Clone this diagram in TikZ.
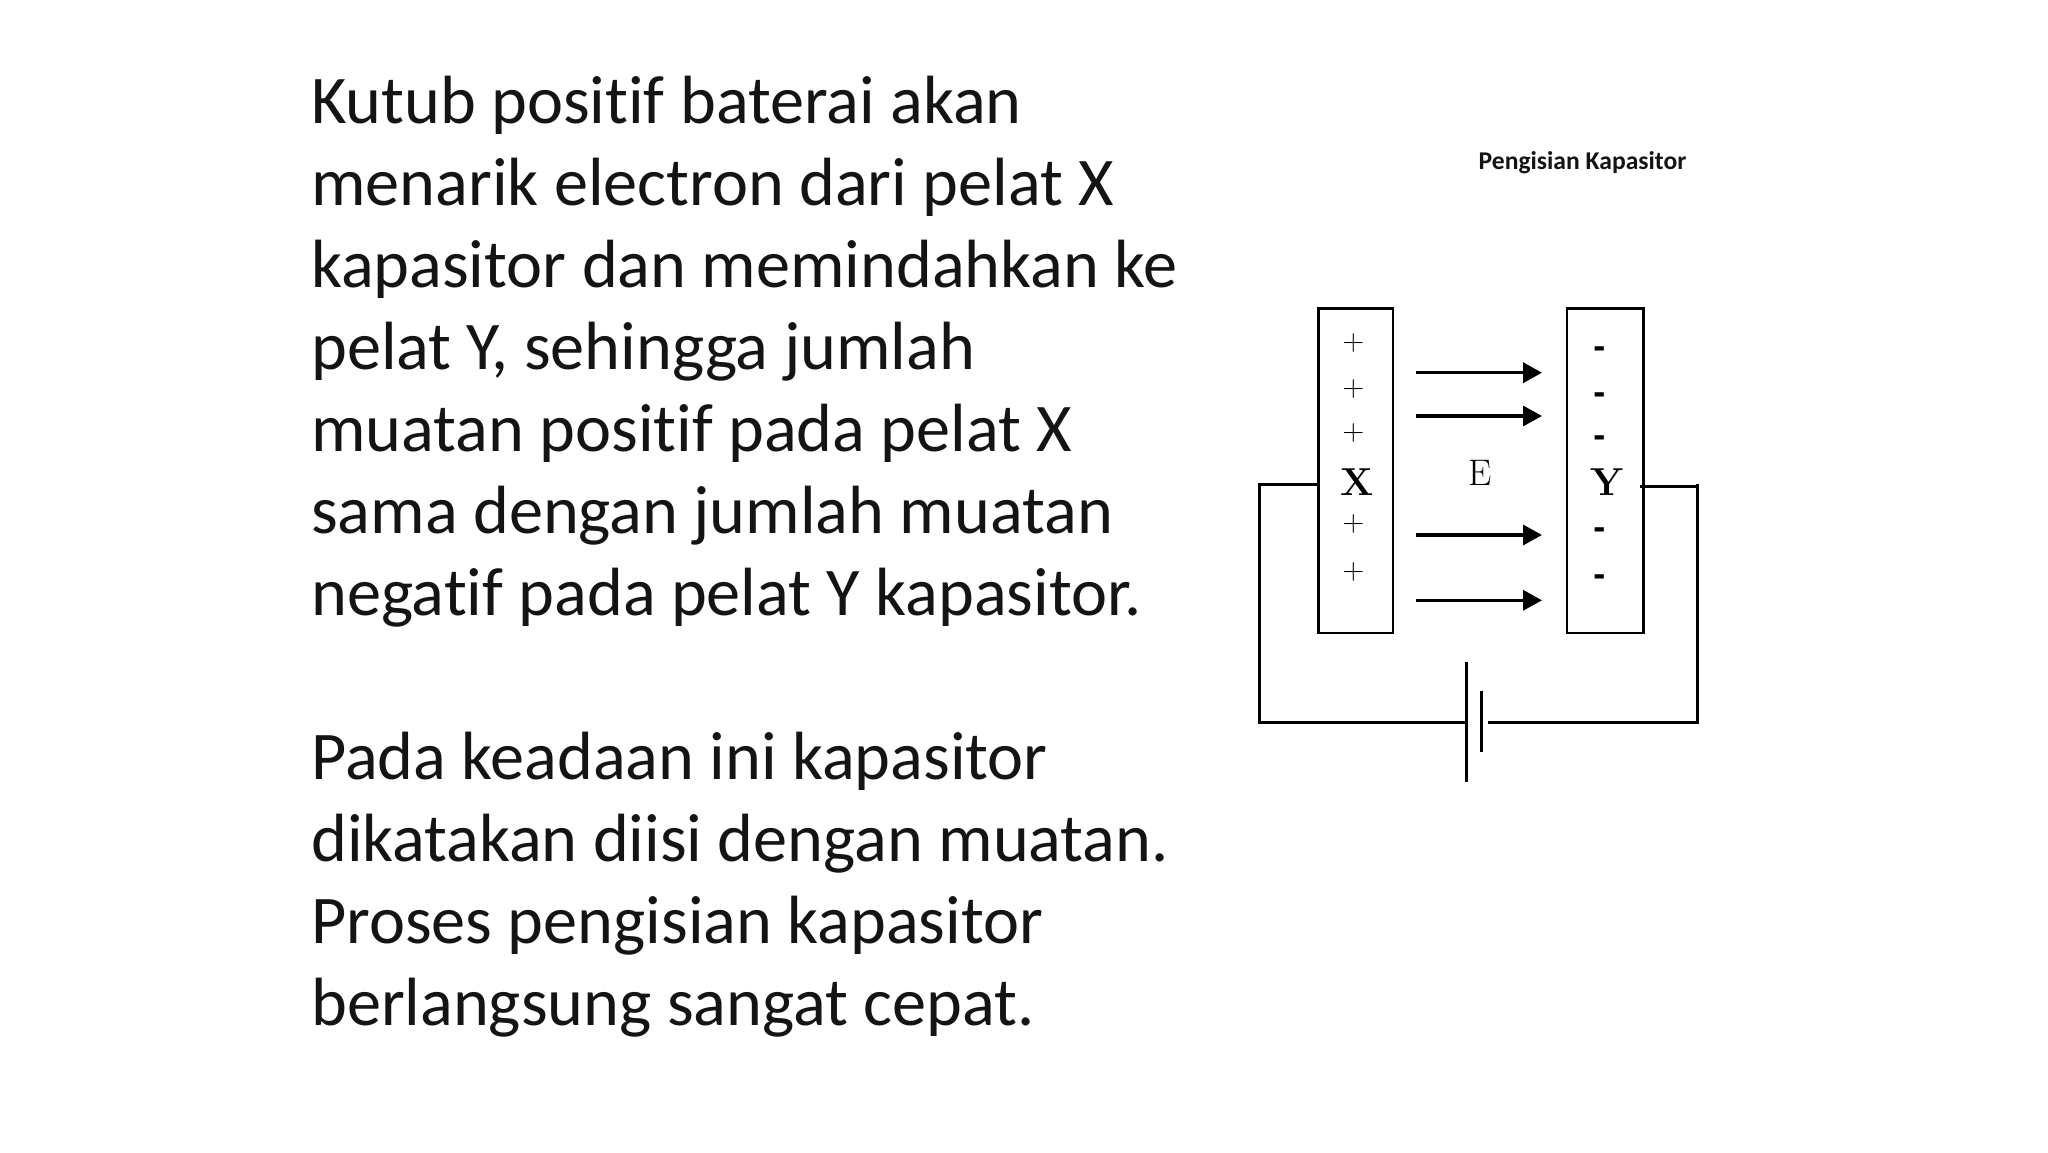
\documentclass[tikz,border=0pt]{standalone}
\usepackage{fontspec}
\usetikzlibrary{arrows.meta}
\newfontfamily\bodyfont[RawFeature=-liga]{Carlito}
\newfontfamily\minusfont[BoldFont={DejaVu Sans Bold}]{DejaVu Sans}
\tikzset{
  x=1pt,y=-1pt,
  wire/.style={line width=2.6pt,black},
  plate/.style={draw=black,line width=2.4pt,inner sep=0pt,fill=white},
  field/.style={line width=3.4pt,black,-{Triangle[length=19pt,width=20pt]}},
  plus/.style={font=\fontsize{30}{30}\selectfont,inner sep=0pt,black},
  minus/.style={font=\minusfont\bfseries\fontsize{30}{30}\selectfont,inner sep=0pt,black},
  letter/.style={font=\fontsize{39}{39}\bfseries\selectfont,inner sep=0pt,black},
}
\begin{document}
\begin{tikzpicture}
\useasboundingbox (0,0) rectangle (2048,1152);
\fill[white] (0,0) rectangle (2048,1152);
\node[anchor=north west,inner sep=0pt,align=left,font=\bodyfont\fontsize{68.25}{82}\selectfont,text=black!92] (body) at (311,76) {%
Kutub positif baterai akan\\
menarik electron dari pelat X\\
kapasitor dan memindahkan ke\\
pelat Y, sehingga jumlah\\
muatan positif pada pelat X\\
sama dengan jumlah muatan\\
negatif pada pelat Y kapasitor.\\
\mbox{}\\
Pada keadaan ini kapasitor\\
dikatakan diisi dengan muatan.\\
Proses pengisian kapasitor\\
berlangsung sangat cepat.};
\node[font=\bodyfont\bfseries\fontsize{25.6}{25.6}\selectfont,inner sep=0pt,text=black!92] (title) at (1582.5,163) {Pengisian Kapasitor};

\node[plate,minimum width=74.4pt,minimum height=324.4pt] (px) at (1355.5,470.5) {};
\node[plate,minimum width=76.6pt,minimum height=324.4pt] (py) at (1605,470.5) {};

\foreach \n/\yy in {a/343.3,b/389,c/432.7,d/524,e/572}
  \node[plus] (p\n) at (1353.3,\yy) {+};
\foreach \n/\yy in {a/352,b/398,c/441.5,d/533,e/580.5}
  \node[minus] (m\n) at (1599.3,\yy) {-};
\node[letter] (lx) at (1357.5,482) {X};
\node[letter] (ly) at (1607.5,482) {Y};
\node[font=\fontsize{37}{37}\selectfont,inner sep=0pt,black] (le) at (1480,473) {E};

\foreach \n/\yy in {a/372.7,b/416,c/535,d/600.3}{
  \coordinate (s\n) at (1416,\yy);
  \coordinate (t\n) at (1542,\yy);
  \draw[field] (s\n) -- (t\n);
}

\coordinate (bl) at (1466.7,722.3);
\coordinate (br) at (1487.7,722.3);
\coordinate (ltop) at (1259.3,484.3);
\coordinate (rtop) at (1697.7,486.7);
\coordinate (ly0) at (1318.3,484.3);
\coordinate (ry0) at (1640,486.7);
\draw[wire] (ly0) -- (ltop) |- (bl);
\draw[wire] (ry0) -- (rtop) |- (br);
\draw[wire] (rtop) ++(0,-2.6) -- ++(0,5.2);
\coordinate (b1t) at (1466.7,662.3);
\coordinate (b1b) at (1466.7,781.7);
\coordinate (b2t) at (1481.7,690.7);
\coordinate (b2b) at (1481.7,751.7);
\draw[wire] (b1t) -- (b1b);
\draw[wire] (b2t) -- (b2b);
\end{tikzpicture}
\end{document}
